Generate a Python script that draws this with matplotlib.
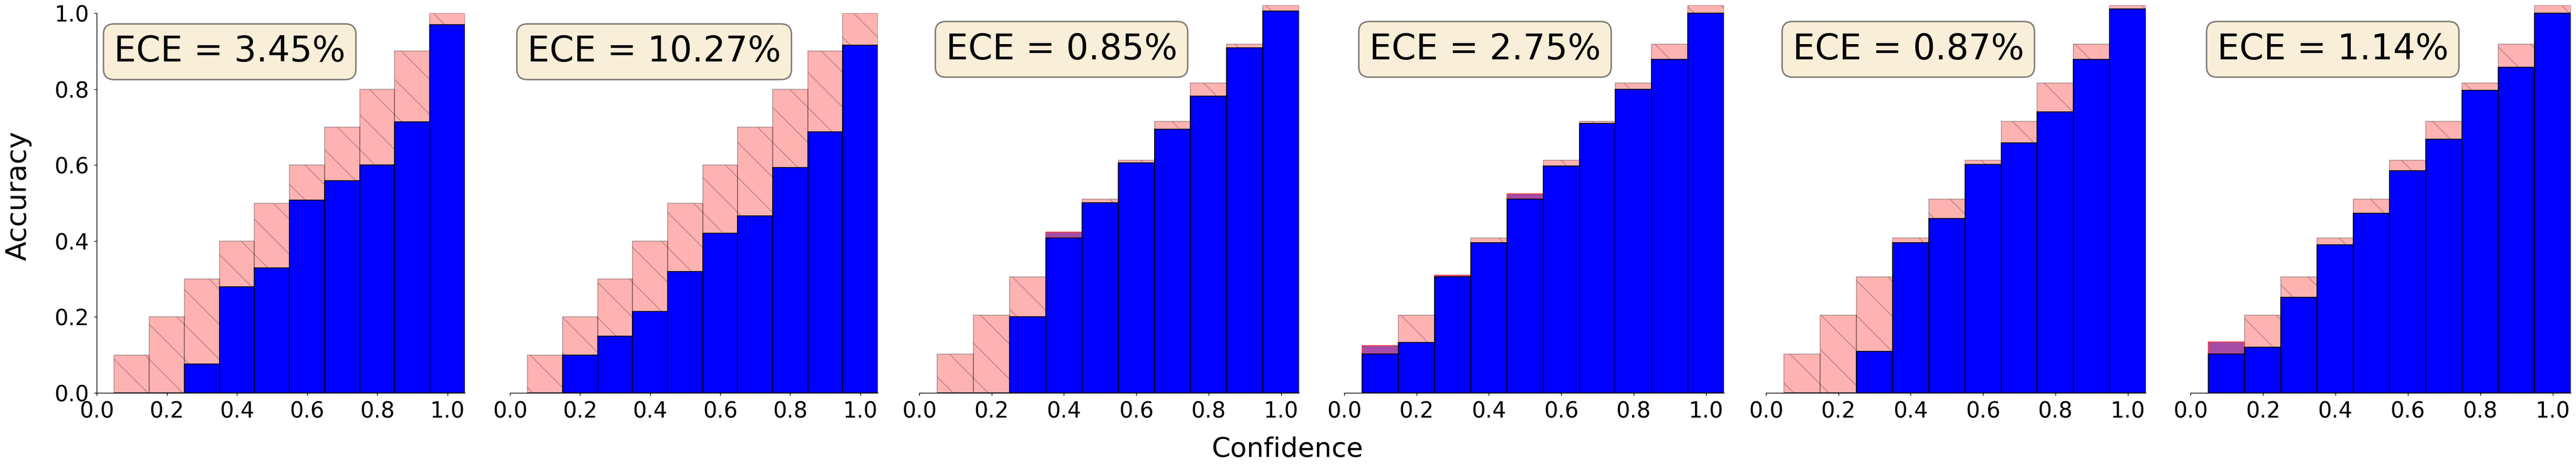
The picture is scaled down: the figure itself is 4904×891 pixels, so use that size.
import numpy as np
import matplotlib.pyplot as plt

# bin confidences (one bar per bin, bars centred on these)
bins = np.linspace(0.1, 1.0, 10)

ece = [3.45, 10.27, 0.85, 2.75, 0.87, 1.14]

# accuracy per bin
acc1 = [0.0, 0.0, 0.076, 0.279, 0.329, 0.508, 0.559, 0.600, 0.714, 0.969]
acc2 = [0.0, 0.100, 0.150, 0.215, 0.320, 0.420, 0.466, 0.594, 0.688, 0.915]
acc3 = [0.0, 0.0, 0.196, 0.415, 0.490, 0.594, 0.680, 0.765, 0.890, 0.985]
acc4 = [0.122, 0.130, 0.304, 0.388, 0.514, 0.585, 0.695, 0.783, 0.860, 0.979]
acc5 = [0.0, 0.0, 0.107, 0.387, 0.450, 0.590, 0.645, 0.725, 0.860, 0.990]
acc6 = [0.132, 0.118, 0.247, 0.382, 0.463, 0.573, 0.654, 0.780, 0.840, 0.980]
accs = [acc1, acc2, acc3, acc4, acc5, acc6]

W, H = 4904, 891
# panel placement in pixels: left, right, top (bottom is shared)
frames = [(184, 885, 25), (971, 1671, 25), (1750, 2473, 10),
          (2559, 3282, 10), (3362, 4085, 10), (4170, 4894, 10)]
bottom_px = 748
# ECE box anchor (axes fraction)
text_pos = [(0.047, 0.944), (0.047, 0.944), (0.07, 0.931),
            (0.066, 0.931), (0.07, 0.931), (0.07, 0.931)]

plt.rcParams['hatch.linewidth'] = 0.5

fig = plt.figure(figsize=(W / 200, H / 200), dpi=200)

for k in range(6):
    l, r, t = frames[k]
    ax = fig.add_axes([l / W, 1 - bottom_px / H, (r - l) / W, (bottom_px - t) / H])
    acc = np.asarray(accs[k])

    # expected (confidence) bars, gap shows hatched
    ax.bar(bins, bins, width=0.1, alpha=0.3, edgecolor='black', color='r',
           hatch='\\', linewidth=0.6, zorder=2)
    # where accuracy exceeds confidence
    over = acc > bins
    ax.bar(bins[over], (acc - bins)[over], bottom=bins[over], width=0.1,
           color='#a44ca7', edgecolor='#f23b3b', linewidth=0.6, zorder=3)
    # outputs
    ax.bar(bins, np.minimum(acc, bins), width=0.1, color='b', edgecolor='black',
           linewidth=0.6, zorder=4)

    ax.set_xlim(0, 1.05)
    ax.set_ylim(0, 1)
    ax.set_xticks(np.arange(0, 1.01, 0.2))
    ax.spines['top'].set_visible(False)
    ax.spines['right'].set_visible(False)
    ax.spines['bottom'].set_linewidth(0.5)
    ax.spines['left'].set_linewidth(0.5)
    ax.tick_params(labelsize=15, length=1.8, width=0.5, pad=3.5)
    if k == 0:
        ax.set_yticks(np.arange(0, 1.01, 0.2))
    else:
        ax.spines['left'].set_visible(False)
        ax.set_yticks([])

    props = dict(boxstyle='round', facecolor='wheat', alpha=0.5)
    tx, ty = text_pos[k]
    ax.text(tx, ty, 'ECE = {:.2f}%'.format(ece[k]), transform=ax.transAxes,
            fontsize=24, verticalalignment='top', bbox=props, zorder=6)

fig.text(0.0071, 1 - 373 / H, 'Accuracy', rotation=90, fontsize=19.5,
         ha='center', va='center')
fig.text(0.4997, 1 - 869 / H, 'Confidence', fontsize=18.5,
         ha='center', va='baseline')

fig.savefig('out.png', dpi=200)
